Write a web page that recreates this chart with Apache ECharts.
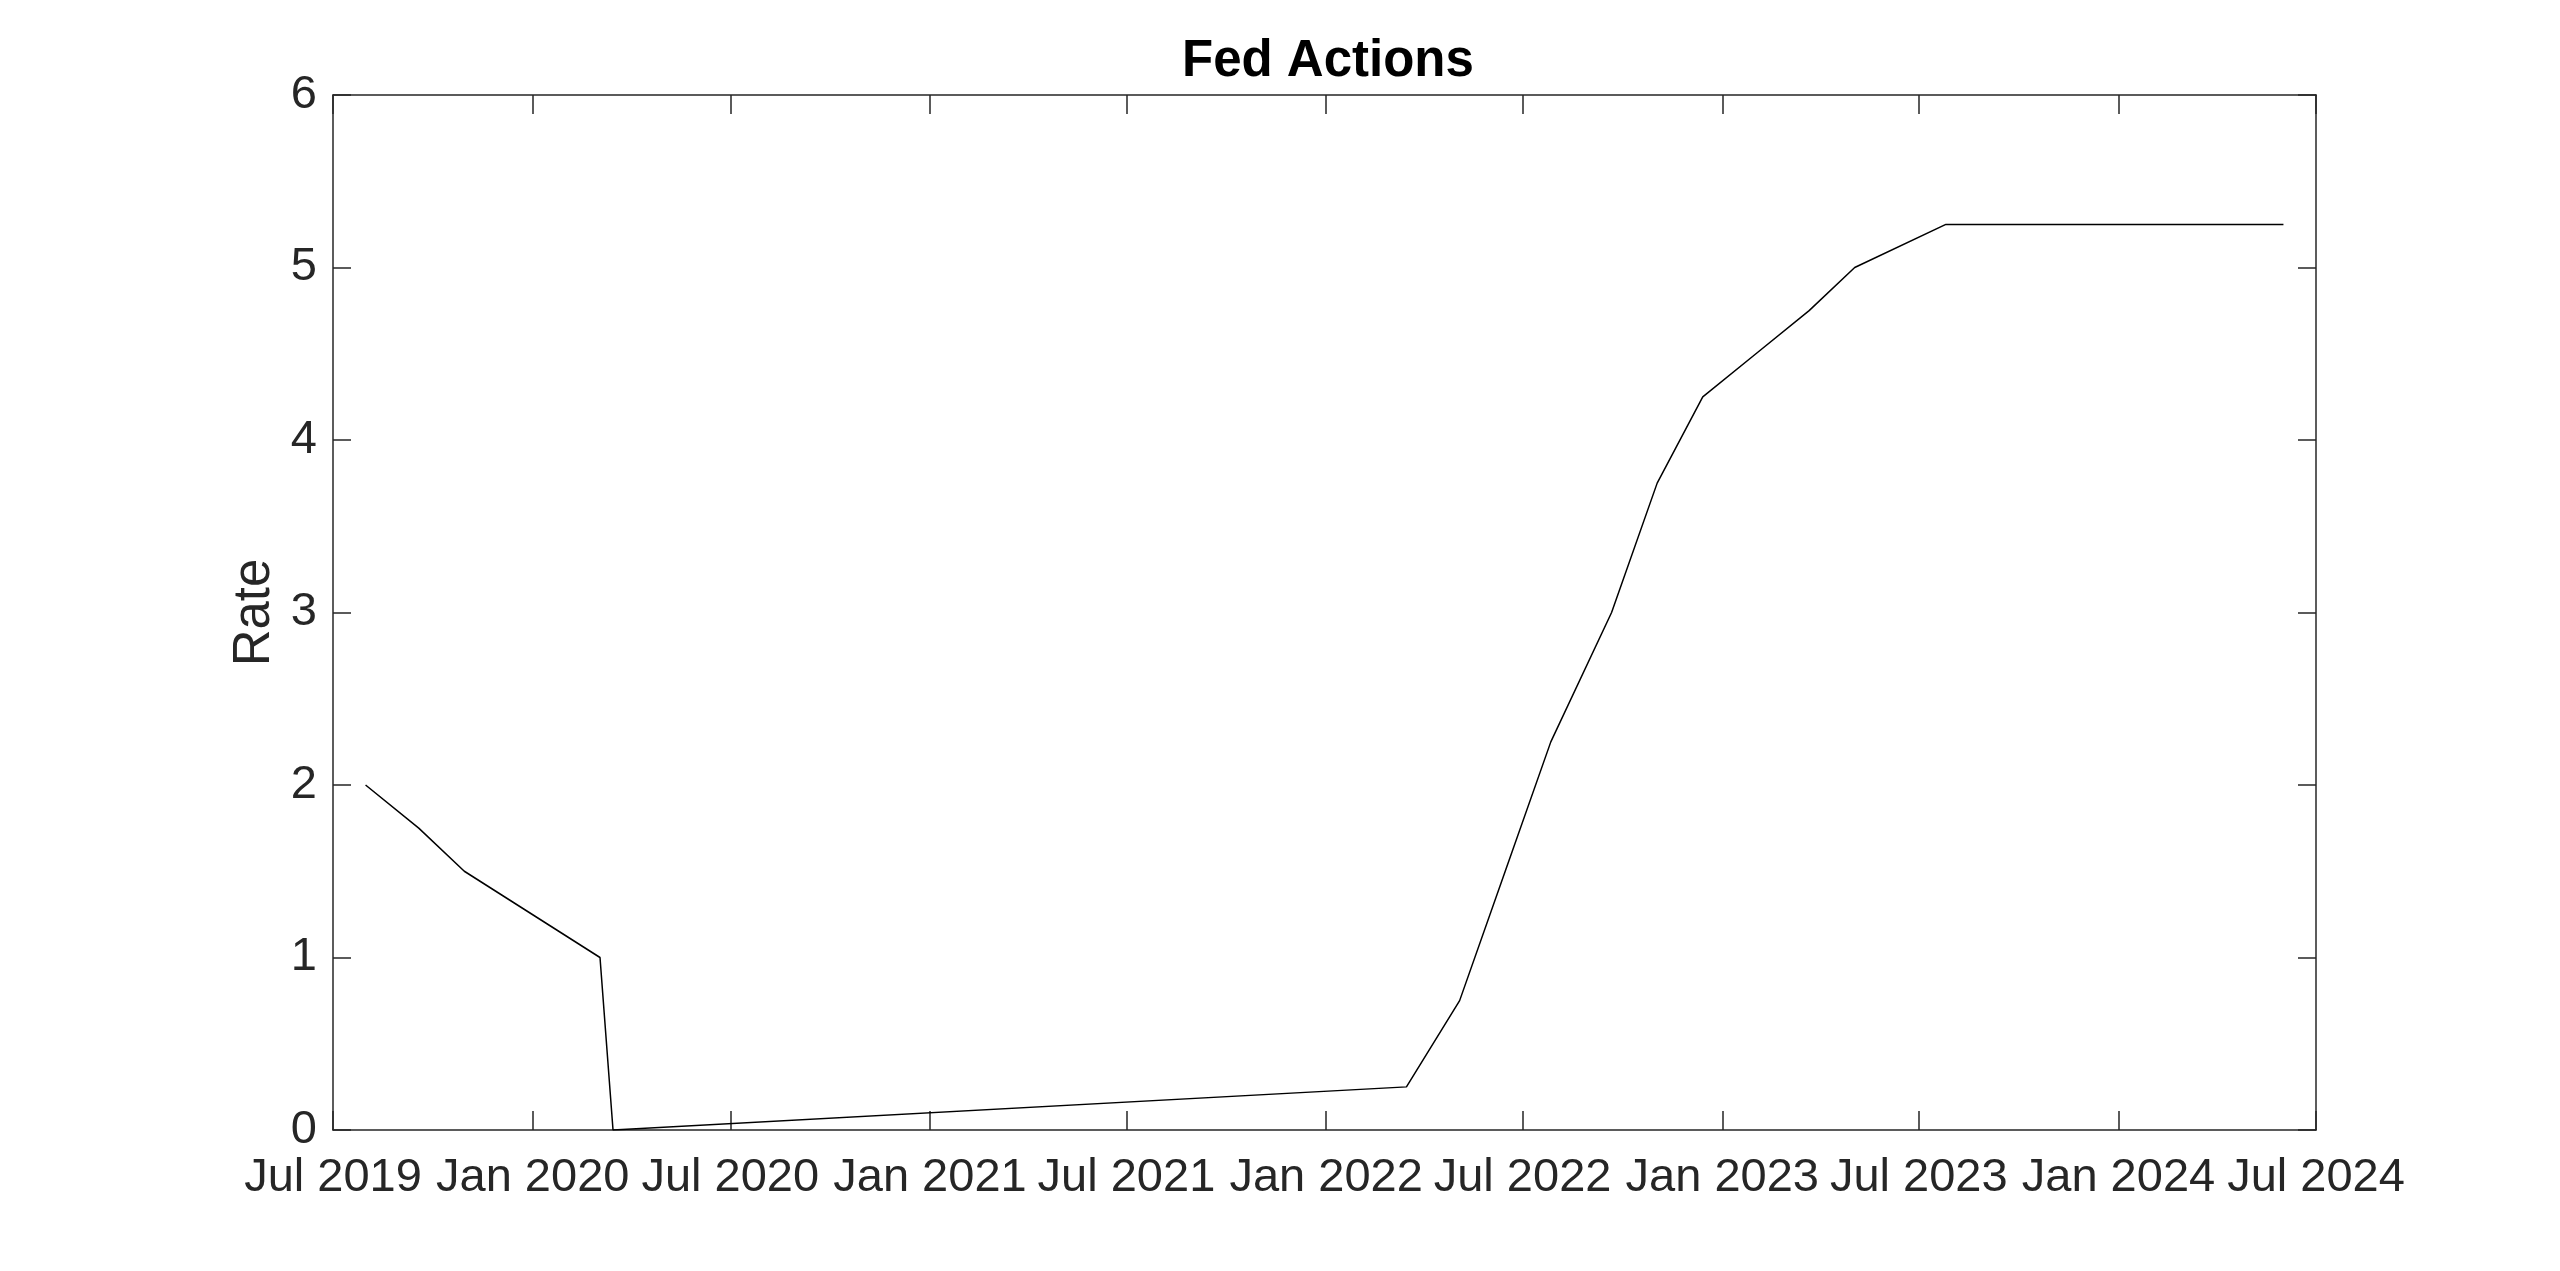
<!DOCTYPE html>
<html>
<head>
<meta charset="utf-8">
<title>Fed Actions</title>
<script src="https://cdn.jsdelivr.net/npm/echarts@6/dist/echarts.min.js"></script>
<style>
  html, body { margin: 0; padding: 0; background: #fff; }
  #fedChart { width: 2560px; height: 1271px; }
</style>
</head>
<body>
<div id="fedChart"></div>
<script>
// meeting dates and rate
var dates = [
    '2019-07-31', '2019-09-18', '2019-10-30', '2020-03-03', '2020-03-15',
    '2022-03-16', '2022-05-04', '2022-06-15', '2022-07-27', '2022-09-21',
    '2022-11-02', '2022-12-14', '2023-02-01', '2023-03-22', '2023-05-03',
    '2023-07-26', '2024-06-01'
];
var rates = [
    2.00, 1.75, 1.50, 1.00, 0.00,
    0.25, 0.75, 1.50, 2.25, 3.00,
    3.75, 4.25, 4.50, 4.75, 5.00,
    5.25, 5.25
];
var tickDates = [
    '2019-07-01', '2020-01-01', '2020-07-01', '2021-01-01', '2021-07-01', '2022-01-01',
    '2022-07-01', '2023-01-01', '2023-07-01', '2024-01-01', '2024-07-01'
];

var font = "'Liberation Sans', Arial, Helvetica, sans-serif";
var ink = '#262626';

// time values as ms so a plain value axis keeps the spacing linear in days
function ms(d) { return +echarts.time.parse(d); }
var tickValues = tickDates.map(ms);
var xMin = tickValues[0];
var xMax = tickValues[tickValues.length - 1];

var fedChart = echarts.init(document.getElementById('fedChart'));

fedChart.setOption({
    animation: false,
    backgroundColor: '#fff',
    title: {
        text: 'Fed Actions',
        left: 1177,
        top: 31,
        textStyle: { fontFamily: font, fontSize: 51, fontWeight: 'bold', color: '#000' }
    },
    grid: { left: 333, right: 244, top: 95, bottom: 141 },
    xAxis: [
        {
            type: 'value',
            min: xMin,
            max: xMax,
            axisLine: { onZero: false, lineStyle: { color: ink, width: 1.5 } },
            axisTick: { show: true, inside: true, length: 19, customValues: tickValues, lineStyle: { color: ink, width: 1.5 } },
            axisLabel: {
                customValues: tickValues,
                margin: 25,
                fontFamily: font,
                fontSize: 47,
                color: ink,
                hideOverlap: false,
                formatter: function (v) { return echarts.time.format(v, '{MMM} {yyyy}', false); }
            },
            splitLine: { show: false }
        },
        {
            type: 'value',
            position: 'top',
            min: xMin,
            max: xMax,
            axisLine: { show: true, onZero: false, lineStyle: { color: ink, width: 1.5 } },
            axisTick: { show: true, inside: true, length: 19, customValues: tickValues, lineStyle: { color: ink, width: 1.5 } },
            axisLabel: { show: false },
            splitLine: { show: false }
        }
    ],
    yAxis: [
        {
            type: 'value',
            min: 0,
            max: 6,
            interval: 1,
            name: 'Rate',
            nameLocation: 'middle',
            nameGap: 50,
            nameTextStyle: { fontFamily: font, fontSize: 51, color: ink },
            axisLine: { show: true, onZero: false, lineStyle: { color: ink, width: 1.5 } },
            axisTick: { show: true, inside: true, length: 18, lineStyle: { color: ink, width: 1.5 } },
            axisLabel: { margin: 16, fontFamily: font, fontSize: 47, color: ink },
            splitLine: { show: false }
        },
        {
            type: 'value',
            position: 'right',
            min: 0,
            max: 6,
            interval: 1,
            axisLine: { show: true, onZero: false, lineStyle: { color: ink, width: 1.5 } },
            axisTick: { show: true, inside: true, length: 18, lineStyle: { color: ink, width: 1.5 } },
            axisLabel: { show: false },
            splitLine: { show: false }
        }
    ],
    series: [
        {
            name: 'Rate',
            type: 'line',
            data: dates.map(function (d, i) { return [ms(d), rates[i]]; }),
            showSymbol: false,
            lineStyle: { color: '#000', width: 1.5 },
            itemStyle: { color: '#000' }
        }
    ]
});
</script>
</body>
</html>
